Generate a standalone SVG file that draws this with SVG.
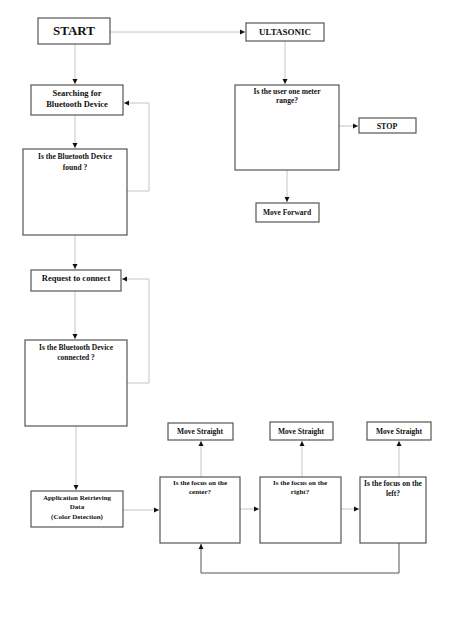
<svg xmlns="http://www.w3.org/2000/svg" width="474" height="632" viewBox="0 0 474 632">
<style>
.box{fill:#fff;stroke:#555;stroke-width:1.2}
.t{font-family:"Liberation Serif","Times New Roman",serif;font-weight:bold;fill:#111;text-anchor:middle}
.c{fill:none;stroke:#c4c4c4;stroke-width:1}
</style>
<defs>
<marker id="ah" markerWidth="6" markerHeight="6" refX="5" refY="3" orient="auto" markerUnits="userSpaceOnUse">
<path d="M0,0.5 L5,3 L0,5.5 Z" fill="#111"/>
</marker>
</defs>
<rect width="474" height="632" fill="#fff"/>
<g id="connectors">
<path class="c" d="M110,32 H245" marker-end="url(#ah)"/>
<path class="c" d="M285,41 V84" marker-end="url(#ah)"/>
<path class="c" d="M339,126 H358" marker-end="url(#ah)"/>
<path class="c" d="M287,170 V202" marker-end="url(#ah)"/>
<path class="c" d="M75,44 V84" marker-end="url(#ah)"/>
<path class="c" d="M75,115 V148" marker-end="url(#ah)"/>
<path class="c" d="M127,191 H149 V103 H124" marker-end="url(#ah)"/>
<path class="c" d="M75,235 V269" marker-end="url(#ah)"/>
<path class="c" d="M75,291 V339" marker-end="url(#ah)"/>
<path class="c" d="M127,383 H149 V279 H122" marker-end="url(#ah)"/>
<path class="c" d="M76,426 V490" marker-end="url(#ah)"/>
<path class="c" d="M123,510 H159" marker-end="url(#ah)"/>
<path class="c" d="M240,509 H259" marker-end="url(#ah)"/>
<path class="c" d="M341,509 H359" marker-end="url(#ah)"/>
<path class="c" d="M201,477 V441" marker-end="url(#ah)"/>
<path class="c" d="M302,477 V441" marker-end="url(#ah)"/>
<path class="c" d="M399,477 V441" marker-end="url(#ah)"/>
<path class="c" d="M399,543 V573 H201 V544" marker-end="url(#ah)" style="stroke:#555"/>
</g>
<g id="start"><rect class="box" x="38" y="18" width="72" height="26"/><text class="t" x="74" y="35" font-size="13">START</text></g>
<g id="ultasonic"><rect class="box" x="246" y="23" width="78" height="18"/><text class="t" x="285" y="35" font-size="9">ULTASONIC</text></g>
<g id="range"><rect class="box" x="235" y="85" width="104" height="85"/><text class="t" x="287" y="94" font-size="7.5">Is the user one meter</text><text class="t" x="287" y="103" font-size="7.5">range?</text></g>
<g id="stop"><rect class="box" x="359" y="118" width="57" height="15"/><text class="t" x="387" y="129" font-size="8">STOP</text></g>
<g id="forward"><rect class="box" x="256" y="203" width="63" height="19"/><text class="t" x="287" y="215" font-size="7.5">Move Forward</text></g>
<g id="searching"><rect class="box" x="31" y="85" width="92" height="30"/><text class="t" x="77" y="96" font-size="8.5">Searching for</text><text class="t" x="77" y="107" font-size="8.5">Bluetooth Device</text></g>
<g id="found"><rect class="box" x="23" y="149" width="104" height="86"/><text class="t" x="75" y="159" font-size="7.5">Is the Bluetooth Device</text><text class="t" x="75" y="170" font-size="7.5">found ?</text></g>
<g id="request"><rect class="box" x="31" y="270" width="90" height="21"/><text class="t" x="76" y="281" font-size="8.5">Request to connect</text></g>
<g id="connected"><rect class="box" x="25" y="340" width="102" height="86"/><text class="t" x="76" y="350" font-size="7.5">Is the Bluetooth Device</text><text class="t" x="76" y="360" font-size="7.5">connected ?</text></g>
<g id="app"><rect class="box" x="31" y="491" width="92" height="36"/><text class="t" x="77" y="500" font-size="7">Application Retrieving</text><text class="t" x="77" y="509" font-size="7">Data</text><text class="t" x="77" y="519" font-size="7">(Color Detection)</text></g>
<g id="center"><rect class="box" x="160" y="477" width="80" height="66"/><text class="t" x="200" y="485" font-size="7">Is the focus on the</text><text class="t" x="200" y="494" font-size="7">center?</text></g>
<g id="right"><rect class="box" x="260" y="477" width="81" height="66"/><text class="t" x="300" y="485" font-size="7">Is the focus on the</text><text class="t" x="300" y="494" font-size="7">right?</text></g>
<g id="left"><rect class="box" x="360" y="477" width="66" height="66"/><text class="t" x="393" y="486" font-size="7.5">Is the focus on the</text><text class="t" x="393" y="496" font-size="7.5">left?</text></g>
<g id="ms1"><rect class="box" x="168" y="423" width="65" height="17"/><text class="t" x="200" y="434" font-size="7.5">Move Straight</text></g>
<g id="ms2"><rect class="box" x="270" y="422" width="63" height="18"/><text class="t" x="301" y="434" font-size="7.5">Move Straight</text></g>
<g id="ms3"><rect class="box" x="367" y="422" width="64" height="18"/><text class="t" x="399" y="434" font-size="7.5">Move Straight</text></g>
</svg>
